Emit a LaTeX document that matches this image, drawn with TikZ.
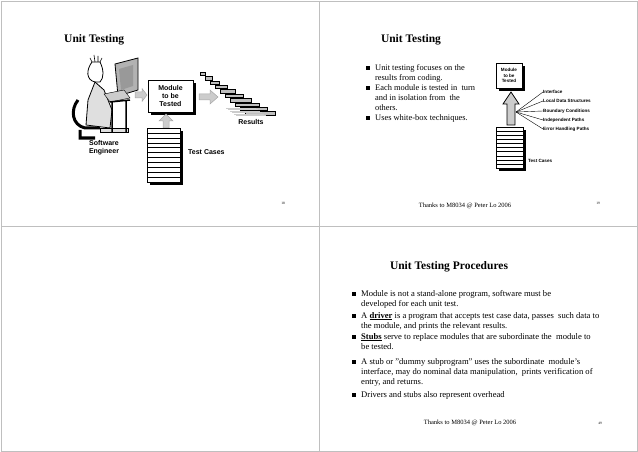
\documentclass[tikz,border=0pt]{standalone}
\usepackage{fontspec}
\setmainfont{Liberation Serif}
\newfontfamily\arial{Liberation Sans}
\begin{document}
\begin{tikzpicture}[x=1pt,y=-1pt,
 ttl/.style={font=\bfseries\fontsize{11.5}{13}\selectfont,inner sep=0},
 bul/.style={anchor=north west,inner sep=0,font=\fontsize{8.4}{10}\selectfont,align=left},
 bulb/.style={anchor=north west,inner sep=0,font=\fontsize{8.6}{10.4}\selectfont,align=left},
 lab/.style={font=\arial\bfseries\fontsize{7}{8}\selectfont,inner sep=0,align=center},
 sml/.style={font=\arial\bfseries\fontsize{4.6}{5.5}\selectfont,inner sep=0,anchor=west},
 foot/.style={font=\fontsize{6.5}{8}\selectfont,inner sep=0},
 pg/.style={font=\fontsize{3.5}{4}\selectfont,inner sep=0},
 blk/.style={fill=gray!40,draw=gray!70,line width=0.5pt}]
\useasboundingbox (0,0) rectangle (638,452);
\draw[gray!50,line width=0.6pt] (1,1) rectangle (637,451);
\draw[gray!50,line width=0.6pt] (319,1)--(319,451) (1,226)--(637,226);
\newcommand\bsq[1]{\fill #1 ++(-1.6,-1.6) rectangle ++(3.2,3.2);}
%%%% Slide 1
\node[ttl,anchor=west] (t1) at (64,40) {Unit Testing};
\draw[line width=3pt] (78,100) .. controls (70,110) and (72,125) .. (85,128) -- (100,128) (80,130)--(80,138)--(95,138);
\filldraw[fill=white,line width=0.8pt] (92,62) .. controls (86,70) and (86,80) .. (95,82) -- (100,82) .. controls (104,78) and (104,70) .. (100,62) -- cycle;
\draw[line width=0.6pt] (90,58)--(92,62) (94,55)--(95,62) (98,56)--(98,62) (102,58)--(100,62);
\filldraw[fill=gray!25,line width=0.8pt] (95,82) -- (88,100) -- (86,125) -- (110,128) -- (112,110) -- (104,90) -- cycle;
\filldraw[fill=gray!25] (100,128) -- (128,128) -- (128,132) -- (100,132) -- cycle;
\filldraw[fill=gray!60,line width=0.8pt] (115,64) -- (138,58) -- (138,90) -- (118,96) -- cycle;
\fill[gray!80] (119,69) -- (133,65) -- (133,86) -- (121,90) -- cycle;
\filldraw[fill=gray!40] (104,94) -- (124,90) -- (130,98) -- (110,102) -- cycle;
\draw[line width=1.5pt] (110,102)--(130,100) (126,100)--(126,132) (112,102)--(112,132);
\node[lab] (se) at (104,148) {Software\\Engineer};
\fill[black] (151,83) rectangle (196,115);
\node[draw,fill=white,minimum width=45pt,minimum height=32pt,inner sep=0,lab] (m1) at (170.5,96) {Module\\to be\\Tested};
\draw[blk] (135,92)--(142,92)--(142,88.5)--(147,95)--(142,101.5)--(142,98)--(135,98)--cycle;
\draw[blk] (199,94)--(210,94)--(210,90)--(218,97)--(210,104)--(210,100)--(199,100)--cycle;
\draw[blk] (163,128)--(163,121)--(159,121)--(166,114)--(173,121)--(169,121)--(169,128)--cycle;
\fill[black] (150,131) rectangle (183,185);
\draw[fill=white] (147,128) rectangle (180,182);
\foreach \i in {1,...,10} \draw (147,{128+\i*4.9}) -- (180,{128+\i*4.9});
\node[lab,anchor=west] (tc1) at (188,152) {Test Cases};
\foreach \i/\w in {0/5,1/7,2/9,3/12,4/15,5/18,6/21,7/24,8/27,9/30} {
 \filldraw[fill=gray!50,draw=black,line width=0.4pt] ({200+\i*5},{72+\i*4.4}) rectangle ++(\w,3.4);
}
\foreach \i in {0,...,5} \draw[gray!40] ({226+\i*2},{108+\i*1.5}) -- ++(30,0);
\node[lab] (r1) at (251,122) {Results};
\node[pg] (p1) at (283,203) {18};
%%%% Slide 2
\node[ttl] (t2) at (411,40) {Unit Testing};
\bsq{(368,68)}
\node[bul] at (375,64) {Unit testing focuses on the\\results from coding.};
\bsq{(368,88)}
\node[bul] at (375,84) {Each module is tested in\ \ turn\\and in isolation from\ \ the\\others.};
\bsq{(368,118)}
\node[bul] at (375,114) {Uses white-box techniques.};
\fill[black] (499,66) rectangle (525,91);
\node[draw,fill=white,minimum width=26pt,minimum height=25pt,inner sep=0,font=\arial\bfseries\fontsize{4.6}{5.5}\selectfont,align=center] (m2) at (509,75.5) {Module\\to be\\Tested};
\draw[blk,line width=0.8pt,draw=black] (507,125)--(507,104)--(503,104)--(511,92)--(519,104)--(515,104)--(515,125)--cycle;
\fill[black] (499,130) rectangle (526,171);
\draw[fill=white] (496,127) rectangle (523,168);
\foreach \i in {1,...,9} \draw (496,{127+\i*4.1}) -- (523,{127+\i*4.1});
\coordinate (fan) at (516,112);
\node[sml] (i1) at (543,92) {Interface};
\node[sml] (i2) at (543,101) {Local Data Structures};
\node[sml] (i3) at (543,111) {Boundary Conditions};
\node[sml] (i4) at (543,120) {Independent Paths};
\node[sml] (i5) at (543,129) {Error Handling Paths};
\foreach \n in {i1,i2,i3,i4,i5} \draw[line width=0.4pt] (fan) -- (\n.west);
\node[sml] (tc2) at (528,161) {Test Cases};
\node[foot] (f2) at (465,206) {Thanks to M8034 @ Peter Lo 2006};
\node[pg] (p2) at (598,203) {19};
%%%% Slide 4
\node[ttl] (t4) at (449,267) {Unit Testing Procedures};
\bsq{(354,294)}
\node[bulb] at (361,290) {Module is not a stand-alone program, software must be\\developed for each unit test.};
\bsq{(354,316)}
\node[bulb] at (361,312) {A \underline{\textbf{driver}} is a program that accepts test case data, passes\ \ such data to\\the module, and prints the relevant results.};
\bsq{(354,337)}
\node[bulb] at (361,333) {\underline{\textbf{Stubs}} serve to replace modules that are subordinate the\ \ module to\\be tested.};
\bsq{(354,362)}
\node[bulb] at (361,358) {A stub or "dummy subprogram" uses the subordinate\ \ module's\\interface, may do nominal data manipulation,\ \ prints verification of\\entry, and returns.};
\bsq{(354,395)}
\node[bulb] at (361,391) {Drivers and stubs also represent overhead};
\node[foot] (f4) at (470,423) {Thanks to M8034 @ Peter Lo 2006};
\node[pg] (p4) at (600,423) {49};
\end{tikzpicture}
\end{document}
